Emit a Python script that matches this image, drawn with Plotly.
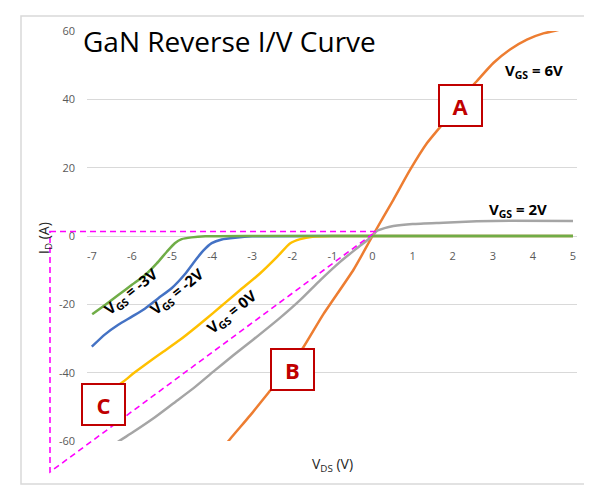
import plotly.graph_objects as go

# ---------------- data ----------------
x_ticks = [-7, -6, -5, -4, -3, -2, -1, 0, 1, 2, 3, 4, 5]
x_ticktext = ["-7", "-6", "-5", "-4", "-3", "-2", "-1", "0", "1", "2", "3", "4", "5"]
y_ticks = [-60, -40, -20, 0, 20, 40, 60]
y_ticktext = ["-60", "-40", "-20", "0", "20", "40", "60"]

vds_m2 = [-7.0, -6.67, -6.34, -6.0, -5.67, -5.34, -5.01, -4.68, -4.43, -4.22, -4.01, -3.76, -3.43, -3.0, 0.0, 5.0]
id_m2 = [-32.4, -28.8, -26.0, -23.6, -21.2, -18.2, -15.3, -11.2, -7.3, -4.3, -2.1, -1.0, -0.5, -0.1, 0.0, 0.0]

vds_6 = [-4.0, -3.55, -3.05, -2.55, -2.0, -1.72, -1.22, -0.47, 0.0, 0.52, 0.94, 1.36, 1.77, 2.19, 2.6, 3.02, 3.43, 3.85, 4.26, 4.6, 5.0]
id_6 = [-66.0, -59.4, -52.5, -45.2, -37.2, -32.5, -22.8, -9.8, 0.0, 10.6, 19.4, 27.2, 33.1, 39.9, 45.3, 50.7, 54.6, 57.5, 59.3, 60.2, 61.5]

vds_2 = [-7.0, -6.38, -5.96, -5.47, -4.97, -4.47, -3.97, -3.47, -2.97, -2.3, -1.8, -1.3, -0.8, -0.39, 0.0, 0.1, 0.3, 0.52, 1.0, 1.77, 2.6, 3.43, 5.0]
id_2 = [-65.5, -60.5, -57.3, -53.4, -49.0, -44.6, -39.7, -34.9, -30.3, -23.9, -18.7, -12.9, -7.5, -3.6, 0.0, 1.4, 2.3, 2.9, 3.5, 3.9, 4.3, 4.5, 4.4]

vds_0 = [-7.0, -6.6, -6.21, -5.96, -5.63, -5.22, -4.8, -4.38, -3.97, -3.64, -3.3, -2.8, -2.38, -2.05, -1.8, -1.5, -1.0, 0.0, 5.0]
id_0 = [-49.0, -45.8, -42.6, -40.2, -37.3, -33.9, -30.4, -26.5, -22.5, -19.2, -15.8, -10.9, -6.1, -2.1, -0.9, -0.2, 0.0, 0.0, 0.0]

vds_m3 = [-6.99, -6.67, -6.34, -6.0, -5.67, -5.38, -5.13, -4.93, -4.76, -4.51, -4.17, -3.0, 0.0, 5.0]
id_m3 = [-22.9, -20.2, -17.3, -14.3, -11.4, -8.0, -4.6, -2.1, -0.9, -0.4, -0.1, 0.0, 0.0, 0.0]

series = [
    ("VGS=-2V", vds_m2, id_m2, "#4472C4"),
    ("VGS=6V", vds_6, id_6, "#ED7D31"),
    ("VGS=2V", vds_2, id_2, "#A5A5A5"),
    ("VGS=0V", vds_0, id_0, "#FFC000"),
    ("VGS=-3V", vds_m3, id_m3, "#70AD47"),
]

# ---------------- figure ----------------
fig = go.Figure()
for name, xs, ys, col in series:
    fig.add_trace(go.Scatter(x=xs, y=ys, mode="lines", name=name,
                             line=dict(color=col, width=2.5, shape="spline", smoothing=0.6),
                             hoverinfo="skip"))

OFF = 8  # page body margin
L, R, T, B = 87 - OFF, 15, 31 - OFF, 51
W, H = 592 - OFF, 492 - OFF
pw, ph = W - L - R, H - T - B


def px(xp):
    return (xp - OFF - L) / pw


def py(yp):
    return (H - B - (yp - OFF)) / ph


shapes = [
    # outer chart frame
    dict(type="rect", xref="paper", yref="paper", x0=px(21), x1=px(586), y0=py(484), y1=py(16),
         line=dict(color="#D9D9D9", width=1.5), layer="below"),
    # magenta dashed triangle
    dict(type="path", xref="paper", yref="paper",
         path=f"M {px(50)},{py(231.5)} L {px(376)},{py(231.5)} L {px(50)},{py(472)} Z",
         line=dict(color="#FF00FF", width=1.6, dash="6px,4px")),
]

lab_font = dict(family="Open Sans", size=15, color="#000000")
box_font = dict(family="Open Sans", size=22, color="#C00000")

annotations = [
    dict(text="GaN Reverse I/V Curve", xref="paper", yref="paper", x=px(81), y=py(41),
         xanchor="left", yanchor="middle", showarrow=False,
         font=dict(family="Open Sans", size=28, color="#000000")),
    dict(text="I<sub>D</sub> (A)", xref="paper", yref="paper", x=px(44), y=py(238),
         xanchor="center", yanchor="middle",
         textangle=-90, showarrow=False, font=dict(family="Open Sans", size=14, color="#262626")),
    dict(text="V<sub>DS</sub> (V)", xref="paper", yref="paper", x=px(332), y=py(464),
         xanchor="center", yanchor="middle",
         showarrow=False, font=dict(family="Open Sans", size=14, color="#262626")),
    dict(text="<b>V<sub>GS</sub> = 6V</b>", x=4.03, y=48.3, showarrow=False, font=lab_font),
    dict(text="<b>V<sub>GS</sub> = 2V</b>", x=3.63, y=7.6, showarrow=False, font=lab_font),
    dict(text="<b>V<sub>GS</sub> = -3V</b>", x=-6.02, y=-16.5, textangle=-39, showarrow=False, font=lab_font),
    dict(text="<b>V<sub>GS</sub> = -2V</b>", x=-4.87, y=-16.5, textangle=-39, showarrow=False, font=lab_font),
    dict(text="<b>V<sub>GS</sub> = 0V</b>", x=-3.5, y=-22.3, textangle=-39, showarrow=False, font=lab_font),
]
for letter, cx, cy in [("A", 460.5, 105.5), ("B", 292.5, 369), ("C", 103.5, 404.5)]:
    annotations.append(dict(text=f"<b>{letter}</b>", xref="paper", yref="paper", x=px(cx), y=py(cy),
                            xanchor="center", yanchor="middle",
                            showarrow=False, width=41, height=39, borderwidth=2, borderpad=0,
                            bordercolor="#C00000", bgcolor="#FFFFFF", font=box_font,
                            align="center", valign="middle"))

fig.update_layout(
    width=W, height=H,
    margin=dict(l=L, r=R, t=T, b=B, pad=0),
    paper_bgcolor="#FFFFFF", plot_bgcolor="#FFFFFF",
    showlegend=False,
    shapes=shapes, annotations=annotations,
    xaxis=dict(range=[-7.12, 5.10], tickvals=x_ticks, ticktext=x_ticktext,
               showgrid=False, zeroline=False, showline=False, ticks="",
               anchor="free", position=0.5, ticklabelstandoff=12,
               tickfont=dict(family="Open Sans", size=11, color="#595959")),
    yaxis=dict(range=[-60, 60], tickvals=y_ticks, ticktext=y_ticktext,
               showgrid=True, gridcolor="#D9D9D9", gridwidth=1, zeroline=False,
               showline=False, ticks="", ticklabelstandoff=11,
               tickfont=dict(family="Open Sans", size=11, color="#595959")),
)

fig.write_html("out.html")
